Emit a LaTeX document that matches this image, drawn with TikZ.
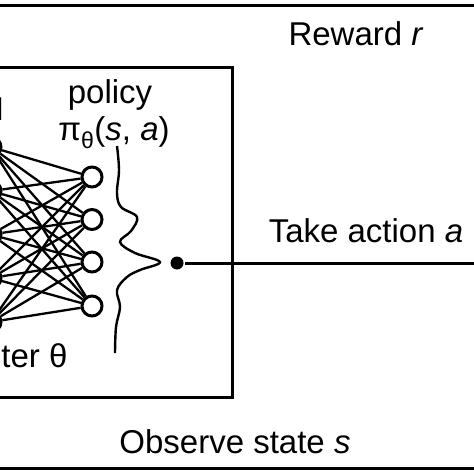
\documentclass[tikz,border=0pt]{standalone}
\usepackage{fontspec}
\setmainfont{Liberation Sans}
\begin{document}
\begin{tikzpicture}[x=1pt,y=-1pt,line width=3pt,
  lbl/.style={font=\fontsize{33}{36}\selectfont,inner sep=0pt},
  neuron/.style={circle,draw,line width=3pt,minimum size=20pt,inner sep=0pt},
  link/.style={line width=2.3pt},
  wave/.style={line width=2.4pt}]
\useasboundingbox (0,0) rectangle (474,474);
\clip (0,0) rectangle (474,474);
% environment (outer box) and agent (inner box)
\draw (-30,5) rectangle (504,468);
\draw (-30,67) rectangle (232,397);
% labels
\node[lbl,anchor=base] (rew) at (356,45) {Reward \textit{r}};
\node[lbl,anchor=base] (act) at (366,242) {Take action \textit{a}};
\node[lbl,anchor=base] (obs) at (235,453) {Observe state \textit{s}};
\node[lbl,anchor=base] (pol) at (110,103) {policy};
\node[lbl,anchor=base] (pi) at (114,140) {π\textsubscript{θ}(\textit{s}, \textit{a})};
\node[lbl,anchor=base east] (par) at (69,367) {parameter θ};
\node[lbl,anchor=base east] (dnn) at (5.5,120) {DNN};
% network
\foreach \i/\y in {1/147,2/191,3/234.5,4/278,5/322}
  \node[neuron] (in\i) at (-9,\y) {};
\foreach \j/\y in {1/177,2/219.5,3/262,4/306}
  \node[neuron] (out\j) at (92,\y) {};
\foreach \i in {1,...,5}
  \foreach \j in {1,...,4}
    \draw[link] (in\i) -- (out\j);
% policy distribution
\draw[wave] plot[smooth,tension=0.6] coordinates {(117,146) (119,170) (117,193) (121,207) (137,217) (131,231) (120,242) (135,253) (160,262) (140,270) (127,277) (117,290) (120,307) (116,327) (115,353)};
% action
\node[circle,fill,minimum size=13pt,inner sep=0pt] (dot) at (177,263) {};
\coordinate (env) at (490,263);
\draw (dot) -- (env);
\end{tikzpicture}
\end{document}
